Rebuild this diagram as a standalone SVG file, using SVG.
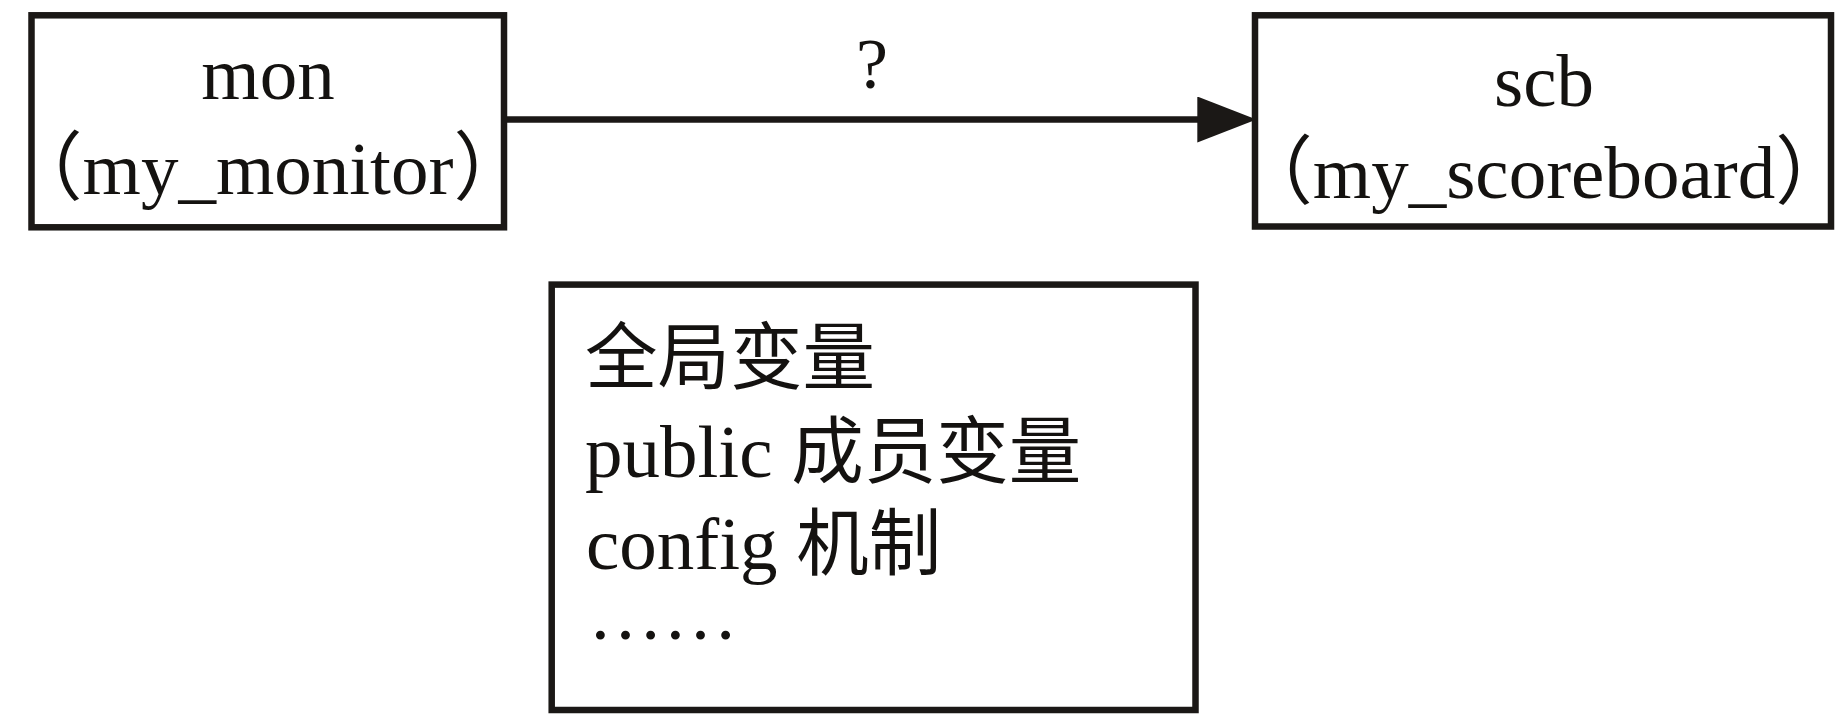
<svg xmlns="http://www.w3.org/2000/svg" width="1841" height="726" viewBox="0 0 1841 726">
  <style>
    .box { fill: #ffffff; stroke: #1b1816; stroke-width: 6.5; }
    .conn { stroke: #1b1816; stroke-width: 6.5; fill: none; }
    .t { font-family: "Liberation Serif", "Noto Sans CJK SC", serif; font-size: 75px; fill: #141210; }
    .c { text-anchor: middle; }
    .cjk { font-size: 72.5px; }
  </style>
  <defs>
    <marker id="arrow" markerUnits="userSpaceOnUse" markerWidth="60" markerHeight="46" viewBox="0 0 54 42" refX="7" refY="21" orient="auto">
      <path d="M0,0 L54,21 L0,42 Z" fill="#1b1816"/>
    </marker>
  </defs>
  <rect width="1841" height="726" fill="#ffffff"/>

  <g id="connectors">
    <line class="conn" x1="507" y1="119.5" x2="1205" y2="119.5" marker-end="url(#arrow)"/>
    <text class="t c" x="872" y="88" style="font-size:72px">?</text>
  </g>

  <g id="node-mon">
    <rect class="box" x="31.5" y="15.3" width="472.5" height="212"/>
    <text class="t c" x="268" y="99">mon</text>
    <text class="t c" x="268" y="194">（my_monitor）</text>
  </g>

  <g id="node-scb">
    <rect class="box" x="1255" y="15.3" width="576" height="211.2"/>
    <text class="t c" x="1544" y="106">scb</text>
    <text class="t c" x="1544" y="198">（my_scoreboard）</text>
  </g>

  <g id="node-methods">
    <rect class="box" x="551.7" y="284.6" width="643.8" height="425.4"/>
    <text class="t" x="585" y="383"><tspan class="cjk">全局变量</tspan></text>
    <text class="t" x="585" y="477">public <tspan class="cjk">成员变量</tspan></text>
    <text class="t" x="586" y="569">config <tspan class="cjk">机制</tspan></text>
    <text class="t" x="588" y="639">……</text>
  </g>
</svg>
